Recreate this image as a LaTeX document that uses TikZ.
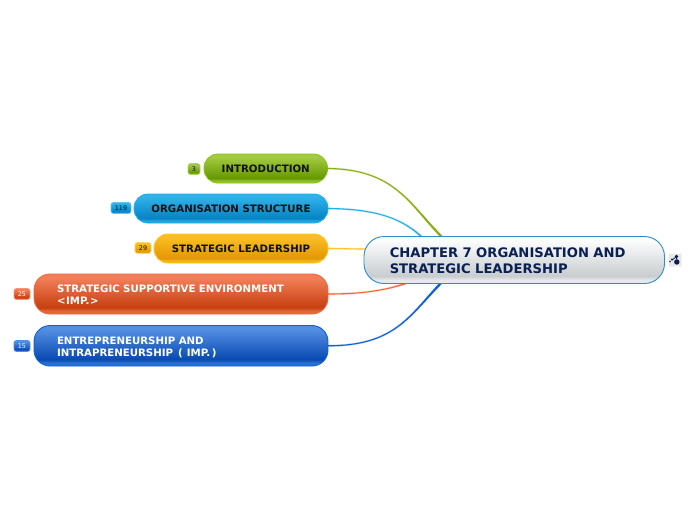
\documentclass[tikz,border=0pt]{standalone}
\usepackage{fontspec}
\setmainfont{DejaVu Sans}
\usetikzlibrary{calc}
\newcommand{\mkshade}[5]{%
 \definecolor{#1T}{HTML}{#2}\definecolor{#1D}{HTML}{#3}\definecolor{#1L}{HTML}{#4}\definecolor{#1B}{HTML}{#5}%
 \pgfdeclareverticalshading{#1S}{100bp}{color(0bp)=(#1L); color(25bp)=(#1L); color(29bp)=(#1L); color(33bp)=(#1D); color(70bp)=(#1T); color(75bp)=(#1T); color(100bp)=(#1T)}%
}
\mkshade{gr}{A2CC40}{659800}{92C22A}{8DC01E}
\mkshade{cy}{2FB2EA}{0583C4}{22A6E2}{1EAEEE}
\mkshade{ye}{FBBE22}{E39705}{F7B512}{FFC425}
\mkshade{og}{F27E58}{C63F0E}{E2683C}{F2663A}
\mkshade{bl}{528EE2}{084AB2}{2A70D2}{0F60D6}
\mkshade{ce}{FBFCFC}{C8CDCF}{E6E8E9}{2C8ECE}
\definecolor{navy}{HTML}{0A1F52}
\definecolor{inkb}{HTML}{111111}
\definecolor{lgr}{HTML}{88B010}
\newcommand{\topgap}[1]{\rule{0pt}{#1pt}}
\tikzset{
 pill/.style n args={3}{shape=rectangle,rounded corners=#3,shading=#1S,draw=#1B,line width=.9pt,
   minimum width=#2,inner sep=0pt,outer sep=0pt,font=\fontsize{10.2}{12}\selectfont\bfseries},
 badge/.style n args={1}{shape=rectangle,rounded corners=2.5pt,shading=#1S,draw=#1B!70!white,line width=.7pt,
   minimum height=11pt,inner sep=0pt,font=\fontsize{6.4}{7}\selectfont},
 halo/.style={line width=2.2pt,opacity=.25,line cap=round}
}
% colour, start, control 1, control 2, end, half-width vector at the end
\newcommand{\taper}[6]{%
 \draw[halo,draw=#1] (#2) .. controls (#3) and (#4) .. (#5);
 \fill[#1] ($(#2)+(0,-.55)$) .. controls ($(#3)+(0,-.55)$) and ($(#4)+.5*(#6)$) .. ($(#5)+(#6)$)
   -- ($(hub)+(#6)$) -- ($(hub)-(#6)$) -- ($(#5)-(#6)$) .. controls ($(#4)-.5*(#6)$) and ($(#3)+(0,.55)$) .. ($(#2)+(0,.55)$) -- cycle;
}
\begin{document}
\begin{tikzpicture}[x=1pt,y=-1pt]
\useasboundingbox (0,0) rectangle (696,520);
\coordinate (hub) at (464,260);
\node[pill={gr}{123.5pt}{14pt},minimum height=29pt,text=inkb,align=center] (intro) at (265.75,168.5) {\topgap{8.6}INTRODUCTION};
\node[pill={cy}{194pt}{14pt},minimum height=29pt,text=inkb,align=center] (org) at (231,208.5) {\topgap{8.6}ORGANISATION STRUCTURE};
\node[pill={ye}{174pt}{14pt},minimum height=29pt,text=inkb,align=center] (lead) at (241,248.5) {\topgap{8.6}STRATEGIC LEADERSHIP};
\node[pill={og}{294pt}{16pt},minimum height=40pt,text=white,align=left,text width=248pt] (env) at (181,294) {\topgap{8.6}STRATEGIC SUPPORTIVE ENVIRONMENT\\{<}\kern.6pt IMP.\kern.6pt{>}};
\node[pill={bl}{294pt}{16pt},minimum height=40.5pt,text=white,align=left,text width=248pt] (ent) at (181,345.75) {\topgap{11}ENTREPRENEURSHIP AND\\INTRAPRENEURSHIP\kern1.5pt\ (\kern.8pt\ IMP.\kern1.5pt)};
% connectors
\taper{lgr}{intro.east}{395,169}{410,205}{441,236}{.85,-.85}
\taper{cyB}{org.east}{380,209}{405,220}{425,240}{.6,-.6}
\taper{yeB}{lead.east}{340,248.5}{350,249}{372,249}{0,-.8}
\taper{ogB}{env.east}{360,294}{385,291}{410,282}{-.25,-.7}
\taper{blB}{ent.east}{395,346}{410,315}{441,283}{-.85,-.85}
\node[pill={ce}{300.5pt}{20pt},minimum height=47pt,text=navy,align=left,text width=249pt,
  font=\fontsize{13.15}{16}\selectfont\bfseries] (center) at (514.25,260) {\topgap{10.8}CHAPTER 7 ORGANISATION AND\\STRATEGIC LEADERSHIP};
% badges
\node[badge={gr},minimum width=12pt,text=inkb] (b1) at (194,169) {3};
\node[badge={cy},minimum width=20pt,text=inkb] (b2) at (121,208) {119};
\node[badge={ye},minimum width=16pt,text=inkb] (b3) at (143,248) {29};
\node[badge={og},minimum width=16pt,text=white] (b4) at (22,294) {25};
\node[badge={bl},minimum width=16pt,text=white] (b5) at (22,346) {15};
% small icon
\node[shape=rectangle,fill=black!9,rounded corners=1pt,minimum width=13pt,minimum height=13pt,inner sep=0pt] (icon) at (675,260) {};
\fill[navy] (676.5,256.5) circle (1.8);
\fill[navy] (676.8,262) circle (2.7);
\fill[navy] (672,259.5) circle (1.1);
\fill[navy] (670,261.5) circle (.9);
\draw[navy,line width=.8pt] (672,260) -- (676,257) (676.5,257) -- (676.8,261);
\end{tikzpicture}
\end{document}
